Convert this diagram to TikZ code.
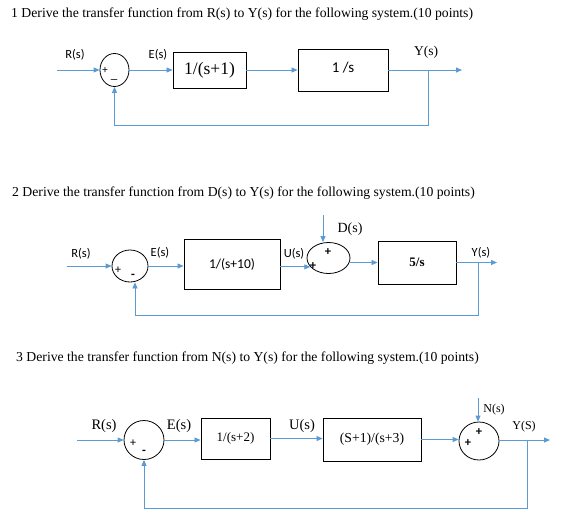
\documentclass[tikz,border=0pt]{standalone}
\usepackage{fontspec}
\setmainfont{Liberation Serif}
\newfontfamily\calfont{Carlito}
\usetikzlibrary{arrows.meta,shapes.geometric}
\definecolor{sigblue}{RGB}{91,155,213}
\begin{document}
\begin{tikzpicture}[x=1pt,y=-1pt,
  wire/.style={draw=sigblue,line width=0.8pt},
  sig/.style={wire,-{Triangle[length=6pt,width=5pt]}},
  blk/.style={draw=black,line width=0.9pt,inner sep=0pt},
  sumell/.style={ellipse,draw=black,line width=0.8pt,inner sep=0pt},
  title/.style={font=\fontsize{13.7}{15}\selectfont,anchor=west,inner sep=0pt},
  slab/.style={font=\calfont\fontsize{12.5}{14}\selectfont,inner sep=0pt},
  rlab/.style={font=\fontsize{13.5}{15}\selectfont,inner sep=0pt},
  pm/.style={font=\calfont\fontsize{11}{12}\selectfont,inner sep=0pt},
  pmb/.style={font=\calfont\bfseries\fontsize{12.5}{13}\selectfont,inner sep=0pt}]
\useasboundingbox[fill=white] (0,0) rectangle (575,531);

% ---------- titles ----------
\node[title] (t1) at (11,14) {1 Derive the transfer function from R(s) to Y(s) for the following system.(10 points)};
\node[title] (t2) at (12,193) {2 Derive the transfer function from D(s) to Y(s) for the following system.(10 points)};
\node[title] (t3) at (16,358) {3 Derive the transfer function from N(s) to Y(s) for the following system.(10 points)};

% ---------- diagram 1 ----------
\node[slab] (R1) at (75,55) {R(s)};
\coordinate (in1) at (57,70);
\node[sumell,minimum width=29pt,minimum height=33pt] (c1) at (114.5,70) {};
\node[pm] (c1p) at (105,70) {+};
\node[pm,font=\calfont\fontsize{13}{13}\selectfont] (c1m) at (114,79) {\_};
\node[slab] (E1) at (158,55) {E(s)};
\node[blk,minimum width=73pt,minimum height=36pt,font=\fontsize{17.5}{19}\selectfont] (b1) at (209.5,70) {1/(s+1)};
\node[blk,minimum width=90pt,minimum height=42pt,font=\calfont\fontsize{15}{17}\selectfont] (b2) at (343,70) {\raisebox{5pt}{1 /s}};
\node[rlab] (Y1) at (426,52) {Y(s)};
\coordinate (br1) at (428,70);
\coordinate (out1) at (462,70);
\coordinate (fb1) at (428,125);
\draw[sig] (in1) -- (c1.west);
\draw[sig] (c1.east) -- (b1.west);
\draw[sig] (b1.east) -- (b2.west);
\draw[sig] (b2.east) -- (out1);
\draw[sig] (br1) -- (fb1) -| (c1.south);

% ---------- diagram 2 ----------
\node[slab] (R2) at (81,254) {R(s)};
\coordinate (in2) at (67,266);
\node[sumell,minimum width=36pt,minimum height=32pt] (c2) at (130,266) {};
\node[pm,font=\calfont\fontsize{12}{13}\selectfont] (c2p) at (118,270) {+};
\node[pmb] (c2m) at (133,276) {-};
\node[slab] (E2) at (160,253) {E(s)};
\node[blk,minimum width=96pt,minimum height=50pt,font=\calfont\fontsize{13.5}{15}\selectfont] (b3) at (232,264) {1/(s+10)};
\node[slab] (U2) at (294,254) {U(s)};
\node[sumell,minimum width=43pt,minimum height=31pt] (c3) at (328.5,258) {};
\node[pmb] (c3p) at (328,252) {+};
\node[pmb] (c3q) at (313,266) {+};
\coordinate (dtop) at (323,215);
\node[rlab,font=\fontsize{14}{16}\selectfont] (D2) at (350,229) {D(s)};
\node[blk,minimum width=78pt,minimum height=43pt,font=\bfseries\fontsize{13}{15}\selectfont] (b4) at (417,262.5) {5/s};
\node[slab] (Y2) at (481,253) {Y(s)};
\coordinate (br2) at (478,262.5);
\coordinate (out2) at (497,262.5);
\coordinate (fb2) at (478,315);
\draw[sig] (in2) -- (c2.west);
\draw[sig] (c2.east) -- (c2.east -| b3.west);
\draw[sig] (c3.206 -| b3.east) -- (c3.206);
\draw[sig] (dtop) -- (dtop |- c3.north);
\draw[sig] (b4.west -| c3.east) -- (b4.west);
\draw[sig] (b4.east) -- (out2);
\draw[sig] (br2) -- (fb2) -| ([xshift=5pt]c2.south);

% ---------- diagram 3 ----------
\node[rlab,font=\fontsize{14.5}{16}\selectfont] (R3) at (104,426) {R(s)};
\coordinate (in3) at (77,440);
\node[sumell,minimum width=40pt,minimum height=39pt] (c4) at (144,440) {};
\node[pm,font=\calfont\fontsize{12}{13}\selectfont] (c4p) at (133,443) {+};
\node[pmb] (c4m) at (144,452) {-};
\node[rlab,font=\fontsize{14.5}{16}\selectfont] (E3) at (179,426) {E(s)};
\node[blk,minimum width=69pt,minimum height=41pt,font=\fontsize{13}{15}\selectfont] (b5) at (235.5,438.5) {\raisebox{3pt}{1/(s+2)}};
\node[rlab,font=\fontsize{14.5}{16}\selectfont] (U3) at (302,426) {U(s)};
\node[blk,minimum width=98pt,minimum height=43pt,font=\fontsize{13.7}{15}\selectfont] (b6) at (372,439.5) {\raisebox{3pt}{(S+1)/(s+3)}};
\node[sumell,minimum width=40pt,minimum height=38pt] (c5) at (479,441) {};
\node[pmb] (c5p) at (479,432) {+};
\node[pmb] (c5q) at (468,443) {+};
\coordinate (ntop) at (478,398);
\node[rlab,font=\fontsize{12}{14}\selectfont] (N3) at (494,410) {N(s)};
\node[rlab,font=\fontsize{12}{14}\selectfont] (Y3) at (524,427) {Y(S)};
\coordinate (br3) at (527,440);
\coordinate (out3) at (550,440);
\coordinate (fb3) at (527,508);
\draw[sig] (in3) -- (c4.west);
\draw[sig] (c4.east) -- (c4.east -| b5.west);
\draw[sig] (b5.east) -- (b5.east -| b6.west);
\draw[sig] (b6.east) -- (b6.east -| c5.west);
\draw[sig] (ntop) -- (ntop |- c5.north);
\draw[sig] (c5.east |- out3) -- (out3);
\draw[sig] (br3) -- (fb3) -| (c4.south);
\end{tikzpicture}
\end{document}
